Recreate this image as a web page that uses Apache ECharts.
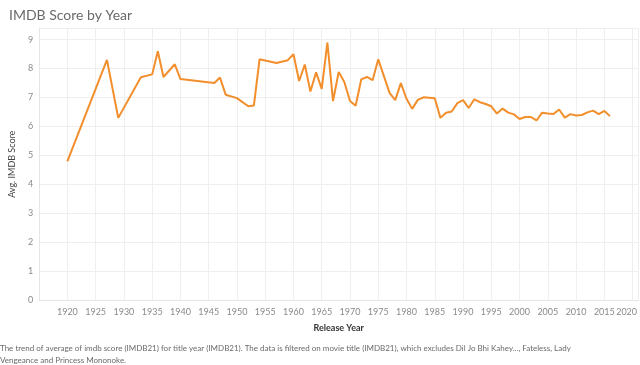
<!DOCTYPE html>
<html>
<head>
<meta charset="utf-8">
<script src="https://cdn.jsdelivr.net/npm/echarts@6/dist/echarts.min.js"></script>
<style>
html,body{margin:0;padding:0;background:#fff;}
#chart{width:640px;height:365px;}
</style>
</head>
<body>
<div id="chart"></div>
<script>
const years = [1920,1927,1929,1933,1935,1936,1937,1939,1940,1946,1947,1948,1950,1952,1953,1954,1957,1959,1960,1961,1962,1963,1964,1965,1966,1967,1968,1969,1970,1971,1972,1973,1974,1975,1977,1978,1979,1980,1981,1982,1983,1985,1986,1987,1988,1989,1990,1991,1992,1993,1994,1995,1996,1997,1998,1999,2000,2001,2002,2003,2004,2005,2006,2007,2008,2009,2010,2011,2012,2013,2014,2015,2016];
const scores = [4.8,8.3,6.3,7.7,7.8,8.6,7.71,8.15,7.64,7.5,7.69,7.1,6.98,6.7,6.73,8.32,8.19,8.29,8.5,7.57,8.14,7.21,7.87,7.3,8.9,6.88,7.88,7.54,6.88,6.72,7.63,7.71,7.6,8.32,7.16,6.91,7.5,6.96,6.61,6.92,7.01,6.98,6.3,6.48,6.52,6.81,6.91,6.64,6.94,6.84,6.78,6.7,6.45,6.62,6.48,6.42,6.26,6.33,6.33,6.21,6.48,6.45,6.43,6.59,6.31,6.43,6.38,6.4,6.49,6.55,6.43,6.54,6.36];
const yTicks = [0,1,2,3,4,5,6,7,8,9];
const titleText = 'IMDB Score by Year';
const xName = 'Release Year';
const yName = 'Avg. IMDB Score';
const noteLine1 = 'The trend of average of imdb score (IMDB21) for title year (IMDB21). The data is filtered on movie title (IMDB21), which excludes Dil Jo Bhi Kahey..., Fateless, Lady';
const noteLine2 = 'Vengeance and Princess Mononoke.';

const FONT = 'Lato';
const chart = echarts.init(document.getElementById('chart'), null, {renderer:'canvas'});
chart.setOption({
  animation:false,
  backgroundColor:'#fff',
  title:{text:titleText,left:4,top:3,textStyle:{fontFamily:FONT,fontSize:14,fontWeight:'normal',color:'#6a6a6a'}},
  grid:{left:35,right:0,top:28,bottom:64.5,containLabel:false},
  xAxis:{
    type:'value',min:1915,max:2021,interval:5,
    name:xName,nameLocation:'middle',nameGap:23,
    nameTextStyle:{fontFamily:FONT,fontSize:9,fontWeight:'bold',color:'#333'},
    axisLine:{show:true,lineStyle:{color:'#e6e6e6'}},
    axisTick:{show:false},
    splitLine:{show:true,lineStyle:{color:'#efefef',width:1}},
    axisLabel:{fontFamily:FONT,fontSize:9,color:'#8a8a8a',margin:7,showMaxLabel:false,showMinLabel:false,
      rich:{r:{fontFamily:FONT,fontSize:9,color:'#8a8a8a',padding:[0,12,0,0]}},
      formatter:function(v){
        if (v===2020) return '{r|2020}';
        return (v%5===0 && v>1915)?String(v):'';
      }}
  },
  yAxis:{
    type:'value',min:0,max:9.4,interval:1,
    name:yName,nameLocation:'middle',nameGap:21,nameRotate:90,
    nameTextStyle:{fontFamily:FONT,fontSize:9,color:'#444'},
    axisLine:{show:true,lineStyle:{color:'#e6e6e6'}},
    axisTick:{show:false},
    splitLine:{show:true,lineStyle:{color:'#efefef',width:1}},
    axisLabel:{fontFamily:FONT,fontSize:9,color:'#8a8a8a',margin:6,
      formatter:function(v){return yTicks.indexOf(v)>=0?String(v):'';}}
  },
  series:[{
    type:'line',
    data:years.map(function(y,i){return [y,scores[i]];}),
    showSymbol:false,symbol:'none',
    lineStyle:{color:'#f28e2b',width:2},
    itemStyle:{color:'#f28e2b'}
  }],
  graphic:[
    {type:'text',left:0,top:344,style:{text:noteLine1,font:'8px Lato',fill:'#6a6a6a'}},
    {type:'text',left:0,top:356,style:{text:noteLine2,font:'8px Lato',fill:'#6a6a6a'}}
  ]
});
</script>
</body>
</html>
